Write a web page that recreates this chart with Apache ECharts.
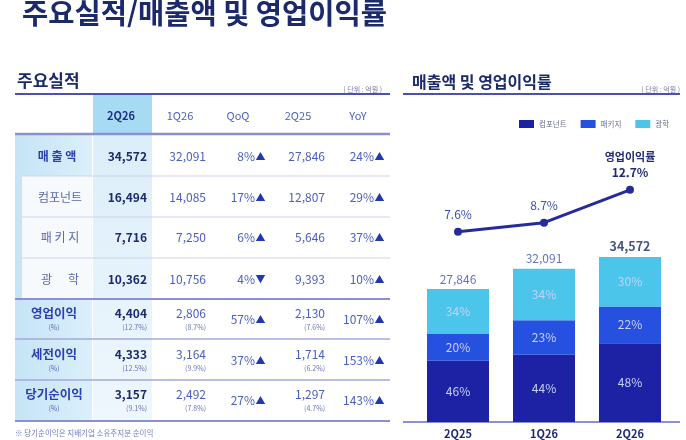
<!DOCTYPE html>
<html lang="ko">
<head>
<meta charset="UTF-8">
<title>주요실적/매출액 및 영업이익률</title>
<style>html,body{margin:0;padding:0;background:#fff}#main{width:686px;height:440px}</style>
</head>
<body>
<div id="main"></div>
<script src="https://cdn.jsdelivr.net/npm/echarts@6.0.0/dist/echarts.min.js"></script>
<script>
// 표 데이터 (단위: 억원)
const rowLabels = ['매 출 액', '컴포넌트', '패 키 지', '광      학', '영업이익', '세전이익', '당기순이익'];
const headers = ['2Q26', '1Q26', 'QoQ', '2Q25', 'YoY'];
const v2Q26 = [34572, 16494, 7716, 10362, 4404, 4333, 3157];
const v1Q26 = [32091, 14085, 7250, 10756, 2806, 3164, 2492];
const v2Q25 = [27846, 12807, 5646, 9393, 2130, 1714, 1297];
const qoq = ['8%', '17%', '6%', '4%', '57%', '37%', '27%'];
const qoqUp = [true, true, true, false, true, true, true];
const yoy = ['24%', '29%', '37%', '10%', '107%', '153%', '143%'];
const m2Q26 = ['12.7%', '12.5%', '9.1%'];
const m1Q26 = ['8.7%', '9.9%', '7.8%'];
const m2Q25 = ['7.6%', '6.2%', '4.7%'];

// 차트 데이터
const quarters = ['2Q25', '1Q26', '2Q26'];
const component = [12807, 14085, 16494];
const pkg = [5646, 7250, 7716];
const optical = [9393, 10756, 10362];
const opMargin = [7.6, 8.7, 12.7];

const FONT = '"Noto Sans CJK KR", "Noto Sans", sans-serif';
const NAVY = '#1b2a6b';
const BLUE = '#4a5fc0';
const fmt = v => v.toLocaleString('en-US');
const totals = quarters.map((q, i) => component[i] + pkg[i] + optical[i]);

function txt(x, y, text, size, color, weight, align) {
  return {
    type: 'text', x: x, y: y, silent: true,
    style: {
      text: text, fill: color, fontSize: size, fontWeight: weight || 'normal', fontFamily: FONT,
      align: align || 'center', verticalAlign: 'middle',
      textAlign: align || 'center', textVerticalAlign: 'middle'
    }
  };
}
function rect(x, y, w, h, color) {
  return { type: 'rect', silent: true, shape: { x: x, y: y, width: w, height: h }, style: { fill: color } };
}
function hline(x1, x2, y, color, lw) {
  return { type: 'line', silent: true, shape: { x1: x1, y1: y, x2: x2, y2: y }, style: { stroke: color, lineWidth: lw } };
}

// 표 배치
const rowY = [156, 197, 237, 279, 319, 360, 400];
const headX = [121, 180, 238, 298, 358];
const els = [];

// 배경
els.push({
  type: 'rect', silent: true, shape: { x: 15, y: 134, width: 77, height: 287 },
  style: { fill: new echarts.graphic.LinearGradient(0, 0, 1, 0, [
    { offset: 0, color: '#c6e4f6' }, { offset: 1, color: '#dbeffa' }]) }
});
[176, 217, 258].forEach(y => els.push(rect(22, y, 70, 41, '#f6fafd')));
els.push({
  type: 'rect', silent: true, shape: { x: 93, y: 134, width: 59, height: 287 },
  style: { fill: new echarts.graphic.LinearGradient(0, 0, 0, 1, [
    { offset: 0, color: '#dceefa' }, { offset: 1, color: '#eef7fd' }]) }
});
els.push(rect(93, 95, 59, 39, '#a6dbf3'));

// 선
els.push(hline(15, 390, 94, '#4b50b3', 2));
els.push(hline(15, 390, 134, '#8b90d2', 2.5));
[176, 217, 258].forEach(y => els.push(hline(22, 390, y, '#cfd2ec', 1)));
els.push(hline(15, 390, 299, '#8b90d2', 2));
[339, 380].forEach(y => els.push(hline(15, 390, y, '#a3a8dc', 1.5)));
els.push(hline(15, 390, 421, '#8b90d2', 2));
els.push(hline(403, 680, 94, '#4b50b3', 2));
els.push(hline(403, 680, 422, '#8b8fd3', 2));

// 제목
els.push(txt(22, 13, '주요실적/매출액 및 영업이익률', 28.5, NAVY, 'bold', 'left'));
els.push(txt(17, 81, '주요실적', 17, NAVY, 'bold', 'left'));
els.push(txt(412, 82, '매출액 및 영업이익률', 16, NAVY, 'bold', 'left'));
els.push(txt(382, 89, '( 단위 : 억원 )', 7, '#7a80b0', 'normal', 'right'));
els.push(txt(680, 89, '( 단위 : 억원 )', 7, '#7a80b0', 'normal', 'right'));
els.push(txt(15, 433, '※ 당기순이익은 지배기업 소유주지분 순이익', 7.5, '#6b7cc0', 'normal', 'left'));

// 헤더
headers.forEach((h, j) => {
  els.push(txt(headX[j], 116, h, 11, j === 0 ? '#1e2f86' : BLUE, j === 0 ? 'bold' : 'normal'));
});

// 행
rowLabels.forEach((lab, i) => {
  const y = rowY[i];
  const sub = i >= 1 && i <= 3;
  const mg = i >= 4;
  if (mg) {
    els.push(txt(54, y - 6, lab, 12.5, '#2a3fb0', 'bold'));
    els.push(txt(54, y + 8, '(%)', 7, '#5a6ab8'));
  } else {
    els.push(txt(sub ? 60 : 57, y, lab, 12, sub ? '#5d6aa8' : '#2a3fb0', sub ? 'normal' : 'bold'));
  }
  const vy = mg ? y - 6 : y;
  els.push(txt(147, vy, fmt(v2Q26[i]), 12, '#1d2a6e', 'bold', 'right'));
  els.push(txt(206, vy, fmt(v1Q26[i]), 12, BLUE, 'normal', 'right'));
  els.push(txt(325, vy, fmt(v2Q25[i]), 12, BLUE, 'normal', 'right'));
  if (mg) {
    els.push(txt(147, y + 8, '(' + m2Q26[i - 4] + ')', 7, '#6a76b0', 'normal', 'right'));
    els.push(txt(206, y + 8, '(' + m1Q26[i - 4] + ')', 7, '#6a76b0', 'normal', 'right'));
    els.push(txt(325, y + 8, '(' + m2Q25[i - 4] + ')', 7, '#6a76b0', 'normal', 'right'));
  }
  els.push(txt(255, y, qoq[i], 12, BLUE, 'normal', 'right'));
  els.push(txt(260.5, y, qoqUp[i] ? '▲' : '▼', 10, '#2038b0'));
  els.push(txt(374, y, yoy[i], 12, BLUE, 'normal', 'right'));
  els.push(txt(379.5, y, '▲', 10, '#2038b0'));
});

const pctLabel = arr => ({
  show: true, position: 'inside', color: '#c8d0f8', fontSize: 12, fontFamily: FONT,
  formatter: p => Math.round(arr[p.dataIndex] / totals[p.dataIndex] * 100) + '%'
});

const chart = echarts.init(document.getElementById('main'));
chart.setOption({
  animation: false,
  textStyle: { fontFamily: FONT },
  legend: {
    left: 514, top: 115, itemWidth: 15, itemHeight: 8, itemGap: 14,
    icon: 'rect', data: ['컴포넌트', '패키지', '광학'],
    textStyle: { fontSize: 7.5, color: '#6a7090', padding: [0, 0, 0, 0] }
  },
  grid: [
    { left: 415, width: 258, top: 231, height: 191 },
    { left: 415, width: 258, top: 171, height: 82 }
  ],
  xAxis: [
    {
      type: 'category', data: quarters, gridIndex: 0,
      axisLine: { show: false }, axisTick: { show: false },
      axisLabel: { margin: 6, fontSize: 11, fontWeight: 'bold', color: '#1e2a78' }
    },
    { type: 'category', data: quarters, gridIndex: 1, show: false }
  ],
  yAxis: [
    { type: 'value', min: 0, max: 40000, gridIndex: 0, show: false },
    { type: 'value', min: 5, max: 15, gridIndex: 1, show: false }
  ],
  series: [
    { name: '컴포넌트', type: 'bar', stack: 's', barWidth: 62, data: component,
      itemStyle: { color: '#1c22a3' }, label: pctLabel(component) },
    { name: '패키지', type: 'bar', stack: 's', barWidth: 62, data: pkg,
      itemStyle: { color: '#2650e0' }, label: pctLabel(pkg) },
    { name: '광학', type: 'bar', stack: 's', barWidth: 62, data: optical,
      itemStyle: { color: '#4bc5ea' }, label: pctLabel(optical) },
    { name: '합계', type: 'scatter', data: totals, symbolSize: 0, silent: true,
      label: {
        show: true, position: 'top', distance: 4,
        formatter: p => (p.dataIndex === quarters.length - 1 ? '{b|' : '{n|') + fmt(p.value) + '}',
        rich: {
          n: { fontSize: 12, color: '#3b4fb5', fontFamily: FONT },
          b: { fontSize: 12.5, fontWeight: 'bold', color: NAVY, fontFamily: FONT }
        }
      } },
    { name: '영업이익률', type: 'line', xAxisIndex: 1, yAxisIndex: 1, data: opMargin,
      symbol: 'circle', symbolSize: 8, color: '#262b9b',
      lineStyle: { width: 3, color: '#262b9b' },
      label: {
        show: true, position: 'top', distance: 6,
        formatter: p => p.dataIndex === opMargin.length - 1
          ? '{t|영업이익률}\n{b|' + p.value + '%}'
          : '{n|' + p.value + '%}',
        rich: {
          n: { fontSize: 12, color: '#3b4fb5', fontFamily: FONT, lineHeight: 14 },
          t: { fontSize: 11, fontWeight: 'bold', color: '#1e2a78', fontFamily: FONT, lineHeight: 18 },
          b: { fontSize: 12, fontWeight: 'bold', color: '#1e2a78', fontFamily: FONT, lineHeight: 14 }
        }
      } }
  ],
  graphic: { elements: els }
});
</script>
</body>
</html>
